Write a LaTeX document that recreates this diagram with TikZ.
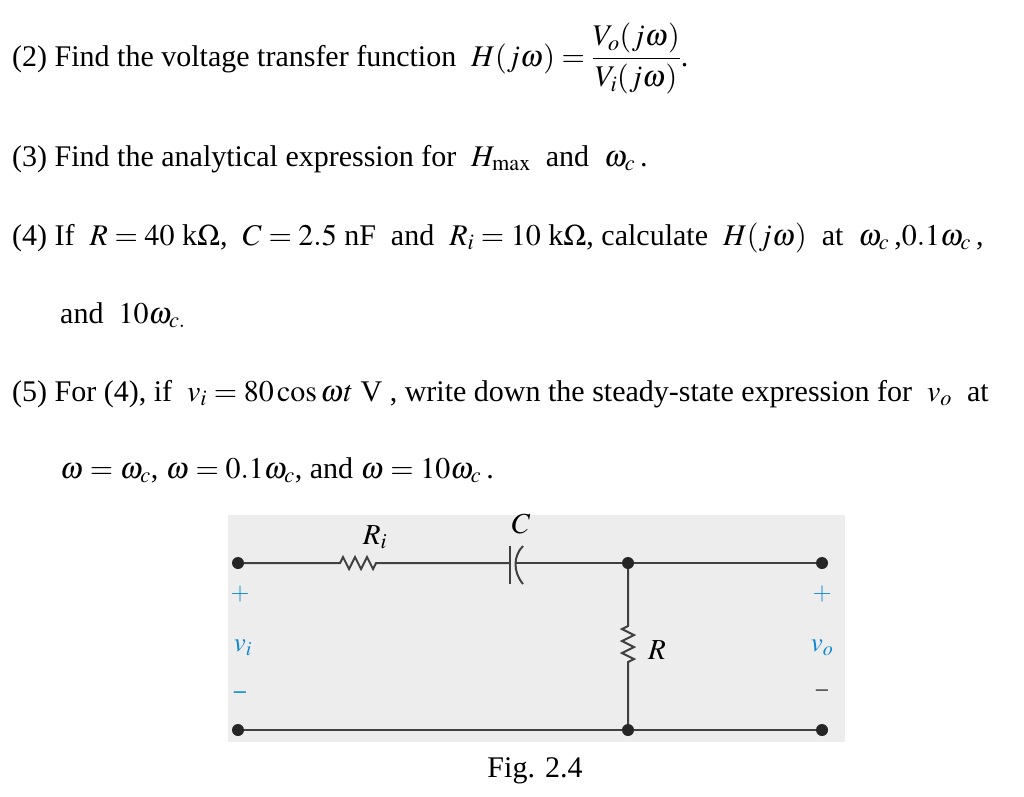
\documentclass[tikz,border=0pt]{standalone}
\usepackage{mathptmx}
\usepackage{fontspec}
\setmainfont{Liberation Serif}
\usepackage{amsmath}
\begin{document}
\begin{tikzpicture}[x=1pt,y=-1pt,
  txt/.style={anchor=base west,inner sep=0pt,font=\fontsize{30}{35}\selectfont},
  dot/.style={circle,fill=black!85,inner sep=0pt,minimum size=12pt},
  lab/.style={font=\fontsize{29}{34}\selectfont,inner sep=0pt},
  pm/.style={font=\fontsize{26}{30}\selectfont\sffamily,text=cyan!70!blue,inner sep=0pt},
  wire/.style={line width=2pt,black!75}]
\useasboundingbox (0,0) rectangle (1024,796);
\node[txt] (l2) at (12,66) {(2) Find the voltage transfer function\ \ $H(j\omega)=\dfrac{V_o(j\omega)}{V_i(j\omega)}$.};
\node[txt] (l3) at (12,166) {(3) Find the analytical expression for\ \ $H_{\max}$\ \ and\ \ $\omega_c$\,.};
\node[txt] (l4) at (12,245) {(4) If\ \ $R=40$ k$\Omega$,\ \ $C=2.5$ nF\ \ and\ \ $R_i=10$ k$\Omega$, calculate\ \ $H(j\omega)$\ \ at\ \ $\omega_c$\,,$0.1\omega_c$\,,};
\node[txt] (l4b) at (60,323) {and\ \ $10\omega_{c.}$};
\node[txt] (l5) at (12,401) {(5) For (4), if\ \ $v_i=80\cos\omega t$ V , write down the steady-state expression for\ \ $v_o$\ \ at};
\node[txt] (l5b) at (60,478) {$\omega=\omega_c$,\ $\omega=0.1\omega_c$, and $\omega=10\omega_c$\,.};
\fill[black!7] (228,515) rectangle (845,742);
\node[dot] (a) at (238,563) {};
\node[dot] (b) at (238,730) {};
\node[dot] (j1) at (628,563) {};
\node[dot] (j2) at (628,730) {};
\node[dot] (c) at (822,563) {};
\node[dot] (d) at (822,730) {};
\coordinate (r1) at (340,563); \coordinate (r2) at (376,563);
\coordinate (c1) at (510,563); \coordinate (c2) at (516,563);
\draw[wire] (a) -- (r1) -- ++(3,-6) -- ++(6,12) -- ++(6,-12) -- ++(6,12) -- ++(6,-12) -- ++(6,12) -- (r2) -- (c1);
\draw[wire] (510,546) -- (510,584);
\draw[wire] (523,546) .. controls (513,556) and (513,572) .. (523,584);
\draw[wire] (c2) -- (j1) -- (c);
\coordinate (v1) at (628,626); \coordinate (v2) at (628,662);
\draw[wire] (j1) -- (v1) -- ++(-6,3) -- ++(12,6) -- ++(-12,6) -- ++(12,6) -- ++(-12,6) -- ++(12,6) -- (v2) -- (j2);
\draw[wire] (b) -- (j2) -- (d);
\node[lab] (lri) at (375,537) {$R_i$};
\node[lab] (lc) at (521,524) {$C$};
\node[lab] (lr) at (657,650) {$R$};
\node[pm] (p1) at (240,594) {+};
\node[pm,font=\fontsize{27}{30}\selectfont] (v1l) at (243,648) {$v_i$};
\node[pm] (m1) at (240,696) {--};
\node[pm] (p2) at (822,594) {+};
\node[pm,font=\fontsize{27}{30}\selectfont] (v2l) at (822,648) {$v_o$};
\node[pm,text=black!70] (m2) at (822,694) {--};
\node[txt,anchor=base] (fig) at (535,777) {Fig. 2.4};
\end{tikzpicture}
\end{document}
